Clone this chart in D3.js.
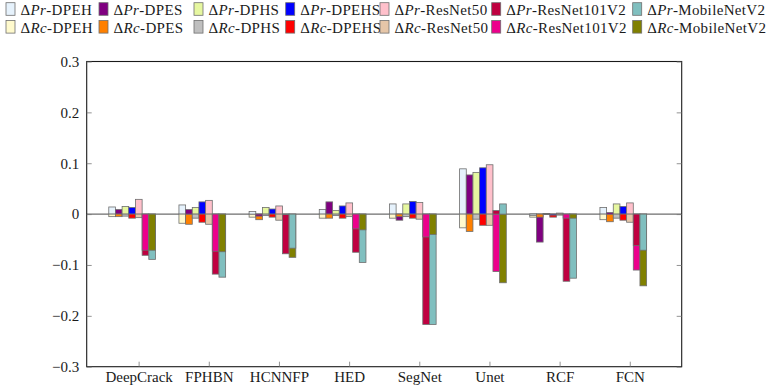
<!DOCTYPE html>
<html>
<head>
<meta charset="utf-8">
<script src="https://cdn.jsdelivr.net/npm/d3@7"></script>
<style>
  html, body { margin: 0; padding: 0; background: #fff; }
  svg { display: block; }
  svg text { font-family: "Liberation Serif", serif !important; fill: #1a1a1a; }
</style>
</head>
<body>
<svg id="chart" width="768" height="391"></svg>
<script>
// ---------------- data ----------------
const categories = ["DeepCrack", "FPHBN", "HCNNFP", "HED", "SegNet", "Unet", "RCF", "FCN"];
const models = ["DPEH", "DPES", "DPHS", "DPEHS", "ResNet50", "ResNet101V2", "MobileNetV2"];
const yTicks = [-0.3, -0.2, -0.1, 0, 0.1, 0.2, 0.3];

// ΔPr per model (one value per category)
const prDPEH        = [0.014, 0.018, 0.005, 0.009, 0.020, 0.089, -0.003, 0.013];
const prDPES        = [0.009, 0.009, -0.004, 0.024, -0.012, 0.077, -0.055, 0.003];
const prDPHS        = [0.015, 0.013, 0.013, 0.007, 0.020, 0.082, 0.001, 0.020];
const prDPEHS       = [0.013, 0.024, 0.010, 0.016, 0.025, 0.091, -0.002, 0.015];
const prResNet50    = [0.029, 0.027, 0.016, 0.022, 0.023, 0.097, 0.002, 0.022];
const prResNet101V2 = [-0.081, -0.118, -0.078, -0.075, -0.217, 0.007, -0.132, -0.062];
const prMobileNetV2 = [-0.089, -0.124, -0.067, -0.095, -0.217, 0.020, -0.126, -0.071];

// ΔRc per model
const rcDPEH        = [-0.005, -0.018, -0.006, -0.008, -0.008, -0.027, -0.006, -0.011];
const rcDPES        = [-0.005, -0.020, -0.011, -0.008, -0.005, -0.034, -0.006, -0.015];
const rcDPHS        = [-0.004, -0.008, -0.003, -0.003, -0.005, -0.010, -0.001, -0.008];
const rcDPEHS       = [-0.008, -0.016, -0.006, -0.008, -0.008, -0.022, -0.006, -0.012];
const rcResNet50    = [-0.007, -0.020, -0.012, -0.005, -0.010, -0.022, -0.002, -0.016];
const rcResNet101V2 = [-0.071, -0.073, -0.001, -0.029, -0.045, -0.113, -0.008, -0.110];
const rcMobileNetV2 = [-0.071, -0.074, -0.085, -0.031, -0.040, -0.135, -0.008, -0.141];

const prColors = ["#e6f2fc", "#800080", "#e6f7a0", "#0000ff", "#ffc0cb", "#bf0040", "#80bfbf"];
const rcColors = ["#fffacd", "#ff8000", "#bfbfbf", "#ff0000", "#e6c6a8", "#ec008c", "#808000"];

const prSeries = [prDPEH, prDPES, prDPHS, prDPEHS, prResNet50, prResNet101V2, prMobileNetV2];
const rcSeries = [rcDPEH, rcDPES, rcDPHS, rcDPEHS, rcResNet50, rcResNet101V2, rcMobileNetV2];

// ---------------- layout ----------------
const plot = { left: 86.7, right: 681.7, top: 61.5, bottom: 366.7 };
const groupOffset = -6.5;   // bar groups sit slightly left of the tick
const pitch = 6.67;
const FS = 15;

const svg = d3.select("#chart");

const x = d3.scaleLinear().domain([-0.74, categories.length - 1 + 0.74]).range([plot.left, plot.right]);
const y = d3.scaleLinear().domain([-0.3, 0.3]).range([plot.bottom, plot.top]);
const inner = d3.scaleBand().domain(models)
  .range([groupOffset - pitch * models.length / 2, groupOffset + pitch * models.length / 2])
  .paddingInner(0).paddingOuter(0);

// build bar records: larger magnitude drawn first so the smaller one stays visible
const bars = [];
categories.forEach((c, ci) => {
  models.forEach((m, mi) => {
    const pair = [
      { cat: c, ci, model: m, kind: "Pr", v: prSeries[mi][ci], color: prColors[mi] },
      { cat: c, ci, model: m, kind: "Rc", v: rcSeries[mi][ci], color: rcColors[mi] }
    ];
    pair.sort((a, b) => Math.abs(b.v) - Math.abs(a.v));
    bars.push(...pair);
  });
});

// zero line
svg.append("line")
  .attr("x1", plot.left).attr("x2", plot.right)
  .attr("y1", y(0)).attr("y2", y(0))
  .attr("stroke", "#6e6e6e").attr("stroke-width", 1.1);

// bars
svg.append("g").selectAll("rect").data(bars).join("rect")
  .attr("x", d => x(d.ci) + inner(d.model))
  .attr("width", inner.bandwidth())
  .attr("y", d => Math.min(y(d.v), y(0)))
  .attr("height", d => Math.abs(y(d.v) - y(0)))
  .attr("fill", d => d.color)
  .attr("stroke", "#6e6e6e")
  .attr("stroke-width", 0.8);

// frame
svg.append("rect")
  .attr("x", plot.left).attr("y", plot.top)
  .attr("width", plot.right - plot.left).attr("height", plot.bottom - plot.top)
  .attr("fill", "none").attr("stroke", "#1a1a1a").attr("stroke-width", 1.1);

// y axis left (ticks pointing inward)
const fmt = v => v === 0 ? "0" : (v < 0 ? "\u2212" + Math.abs(v).toFixed(1) : v.toFixed(1));
const yAxisL = d3.axisLeft(y).tickValues(yTicks).tickSize(-5).tickPadding(7.4).tickFormat(fmt);
const gyl = svg.append("g").attr("transform", `translate(${plot.left},0)`).call(yAxisL);
gyl.attr("font-family", null).attr("font-size", null);
gyl.select(".domain").remove();
gyl.selectAll(".tick line").attr("stroke", "#777").attr("stroke-width", 0.8);
gyl.selectAll(".tick text").style("font-size", FS + "px").attr("fill", "#1a1a1a");

const yAxisR = d3.axisRight(y).tickValues(yTicks).tickSize(-5).tickFormat("");
const gyr = svg.append("g").attr("transform", `translate(${plot.right},0)`).call(yAxisR);
gyr.select(".domain").remove();
gyr.selectAll(".tick line").attr("stroke", "#777").attr("stroke-width", 0.8);

// x axis bottom
const xAxis = d3.axisBottom(x).tickValues(d3.range(categories.length)).tickSize(-5).tickPadding(4.7)
  .tickFormat(i => categories[i]);
const gx = svg.append("g").attr("transform", `translate(0,${plot.bottom})`).call(xAxis);
gx.attr("font-family", null).attr("font-size", null);
gx.select(".domain").remove();
gx.selectAll(".tick line").attr("stroke", "#777").attr("stroke-width", 0.8);
gx.selectAll(".tick text").style("font-size", FS + "px").attr("fill", "#1a1a1a");

// legend
const legendX = [6, 99, 194, 285.7, 380, 491.7, 632.7];
const rows = [
  { kind: "Pr", colors: prColors, boxTop: 2.7, baseline: 15.2 },
  { kind: "Rc", colors: rcColors, boxTop: 20.5, baseline: 33.2 }
];
const leg = svg.append("g");
rows.forEach(r => {
  models.forEach((m, mi) => {
    const g = leg.append("g");
    g.append("rect")
      .attr("x", legendX[mi]).attr("y", r.boxTop)
      .attr("width", 9).attr("height", 12.6)
      .attr("fill", r.colors[mi]).attr("stroke", "#6e6e6e").attr("stroke-width", 0.8);
    const t = g.append("text")
      .attr("x", legendX[mi] + 14.5).attr("y", r.baseline)
      .style("font-size", FS + "px")
      .style("letter-spacing", "0.35px");
    t.append("tspan").text("\u0394");
    t.append("tspan").attr("font-style", "italic").text(r.kind);
    t.append("tspan").text("-" + m);
  });
});
</script>
</body>
</html>
